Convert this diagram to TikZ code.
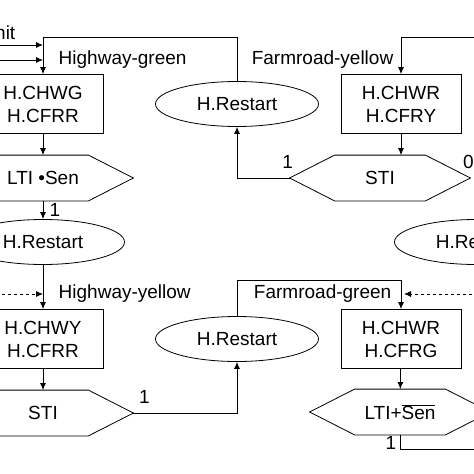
\documentclass[tikz,border=0pt]{standalone}
\usepackage{fontspec}
\setmainfont{Liberation Sans}
\usetikzlibrary{arrows.meta,shapes.geometric}
\newcommand{\hexpath}[1]{%
\draw (#1.north west) -- (#1.north east) -- (#1-te) -- (#1.south east) -- (#1.south west) -- (#1-tw) -- cycle;}
\begin{document}
\begin{tikzpicture}[x=1pt,y=-1pt,line width=0.8pt,
  >={Latex[length=7pt,width=6pt]},
  every node/.style={font=\fontsize{19}{23}\selectfont},
  state/.style={draw, rectangle, minimum width=120pt, minimum height=59pt, align=center, inner sep=0pt},
  hexa/.style={rectangle, minimum width=90pt, minimum height=45pt, inner sep=0pt},
  restart/.style={draw, ellipse, minimum width=163pt, minimum height=45pt, inner sep=0pt}]
\useasboundingbox (0,0) rectangle (474,474);
\node[state] (chwg) at (43,104){H.CHWG\\H.CFRR};
\node[state] (chwy) at (43,339){H.CHWY\\H.CFRR};
\node[state] (cfry) at (401,104){H.CHWR\\H.CFRY};
\node[state] (cfrg) at (401,339){H.CHWR\\H.CFRG};
\node[hexa] (ltisen) at (43,178){LTI \textbullet Sen};
\node[hexa] (sti0) at (380,178){STI};
\node[hexa] (sti1) at (43,413){STI};
\node[hexa] (ltinsen) at (400,412){LTI+$\overline{\hbox{Sen}}$};
\foreach \h in {ltisen,sti0,sti1,ltinsen}{
  \coordinate (\h-te) at ([xshift=45pt]\h.east);
  \coordinate (\h-tw) at ([xshift=-45pt]\h.west);
  \hexpath{\h}
}
\node[restart] (rst0) at (237,104){H.Restart};
\node[restart] (rst1) at (43,242){H.Restart};
\node[restart] (rst2) at (237,339){H.Restart};
\node[restart] (rst3) at (476,242){H.Restart};
\coordinate (init) at (-10,45);
\coordinate (inhg) at (-10,60);
\coordinate (inhy) at (-10,294);
\coordinate (infg) at (484,294);
\coordinate (infy) at (484,37);
\coordinate (outfg) at (484,449);
\coordinate (hg) at (43,37);
\coordinate (fg) at (401,280);
\node[anchor=east] (initlbl) at (19,33){Init};
\node[anchor=west] (hglbl) at (55,60){Highway-green};
\node[anchor=east] (fylbl) at (397,60){Farmroad-yellow};
\node[anchor=west] (hylbl) at (55,294){Highway-yellow};
\node[anchor=east] (fglbl) at (395,294){Farmroad-green};
\draw[->](init) -- (init -| hg);
\draw[->](inhg) -- (inhg -| hg);
\draw[->](rst0.north) |- (hg) -- (chwg.north);
\draw[->](chwg) -- (ltisen);
\draw[->](ltisen) -- node[right,xshift=3pt]{1} (rst1);
\draw[->](rst1) -- (chwy);
\draw[->,dashed](inhy) -- (inhy -| chwy);
\draw[->](chwy) -- (sti1);
\draw[->](sti1-te) -- (sti1-te -| rst2) -- (rst2.south);
\draw[->](rst2.north) |- (fg) -- (cfrg.north);
\draw[->,dashed](infg) -- ([xshift=3pt]infg -| cfrg);
\draw[->](cfrg) -- (ltinsen);
\draw[](ltinsen.south) |- node[pos=0.3,left]{1} (outfg);
\draw[->](infy) -| (cfry.north);
\draw[->](cfry.south) -- (cfry.south |- ltisen.north);
\draw[->](sti0-tw) -- (sti0-tw -| rst0) -- (rst0.south);
\node (one) at ([xshift=-2pt,yshift=16pt]sti0-tw){1};
\node (zero) at ([xshift=-2pt,yshift=16pt]sti0-te){0};
\node (onebot) at ([xshift=11pt,yshift=16pt]sti1-te){1};
\end{tikzpicture}
\end{document}
